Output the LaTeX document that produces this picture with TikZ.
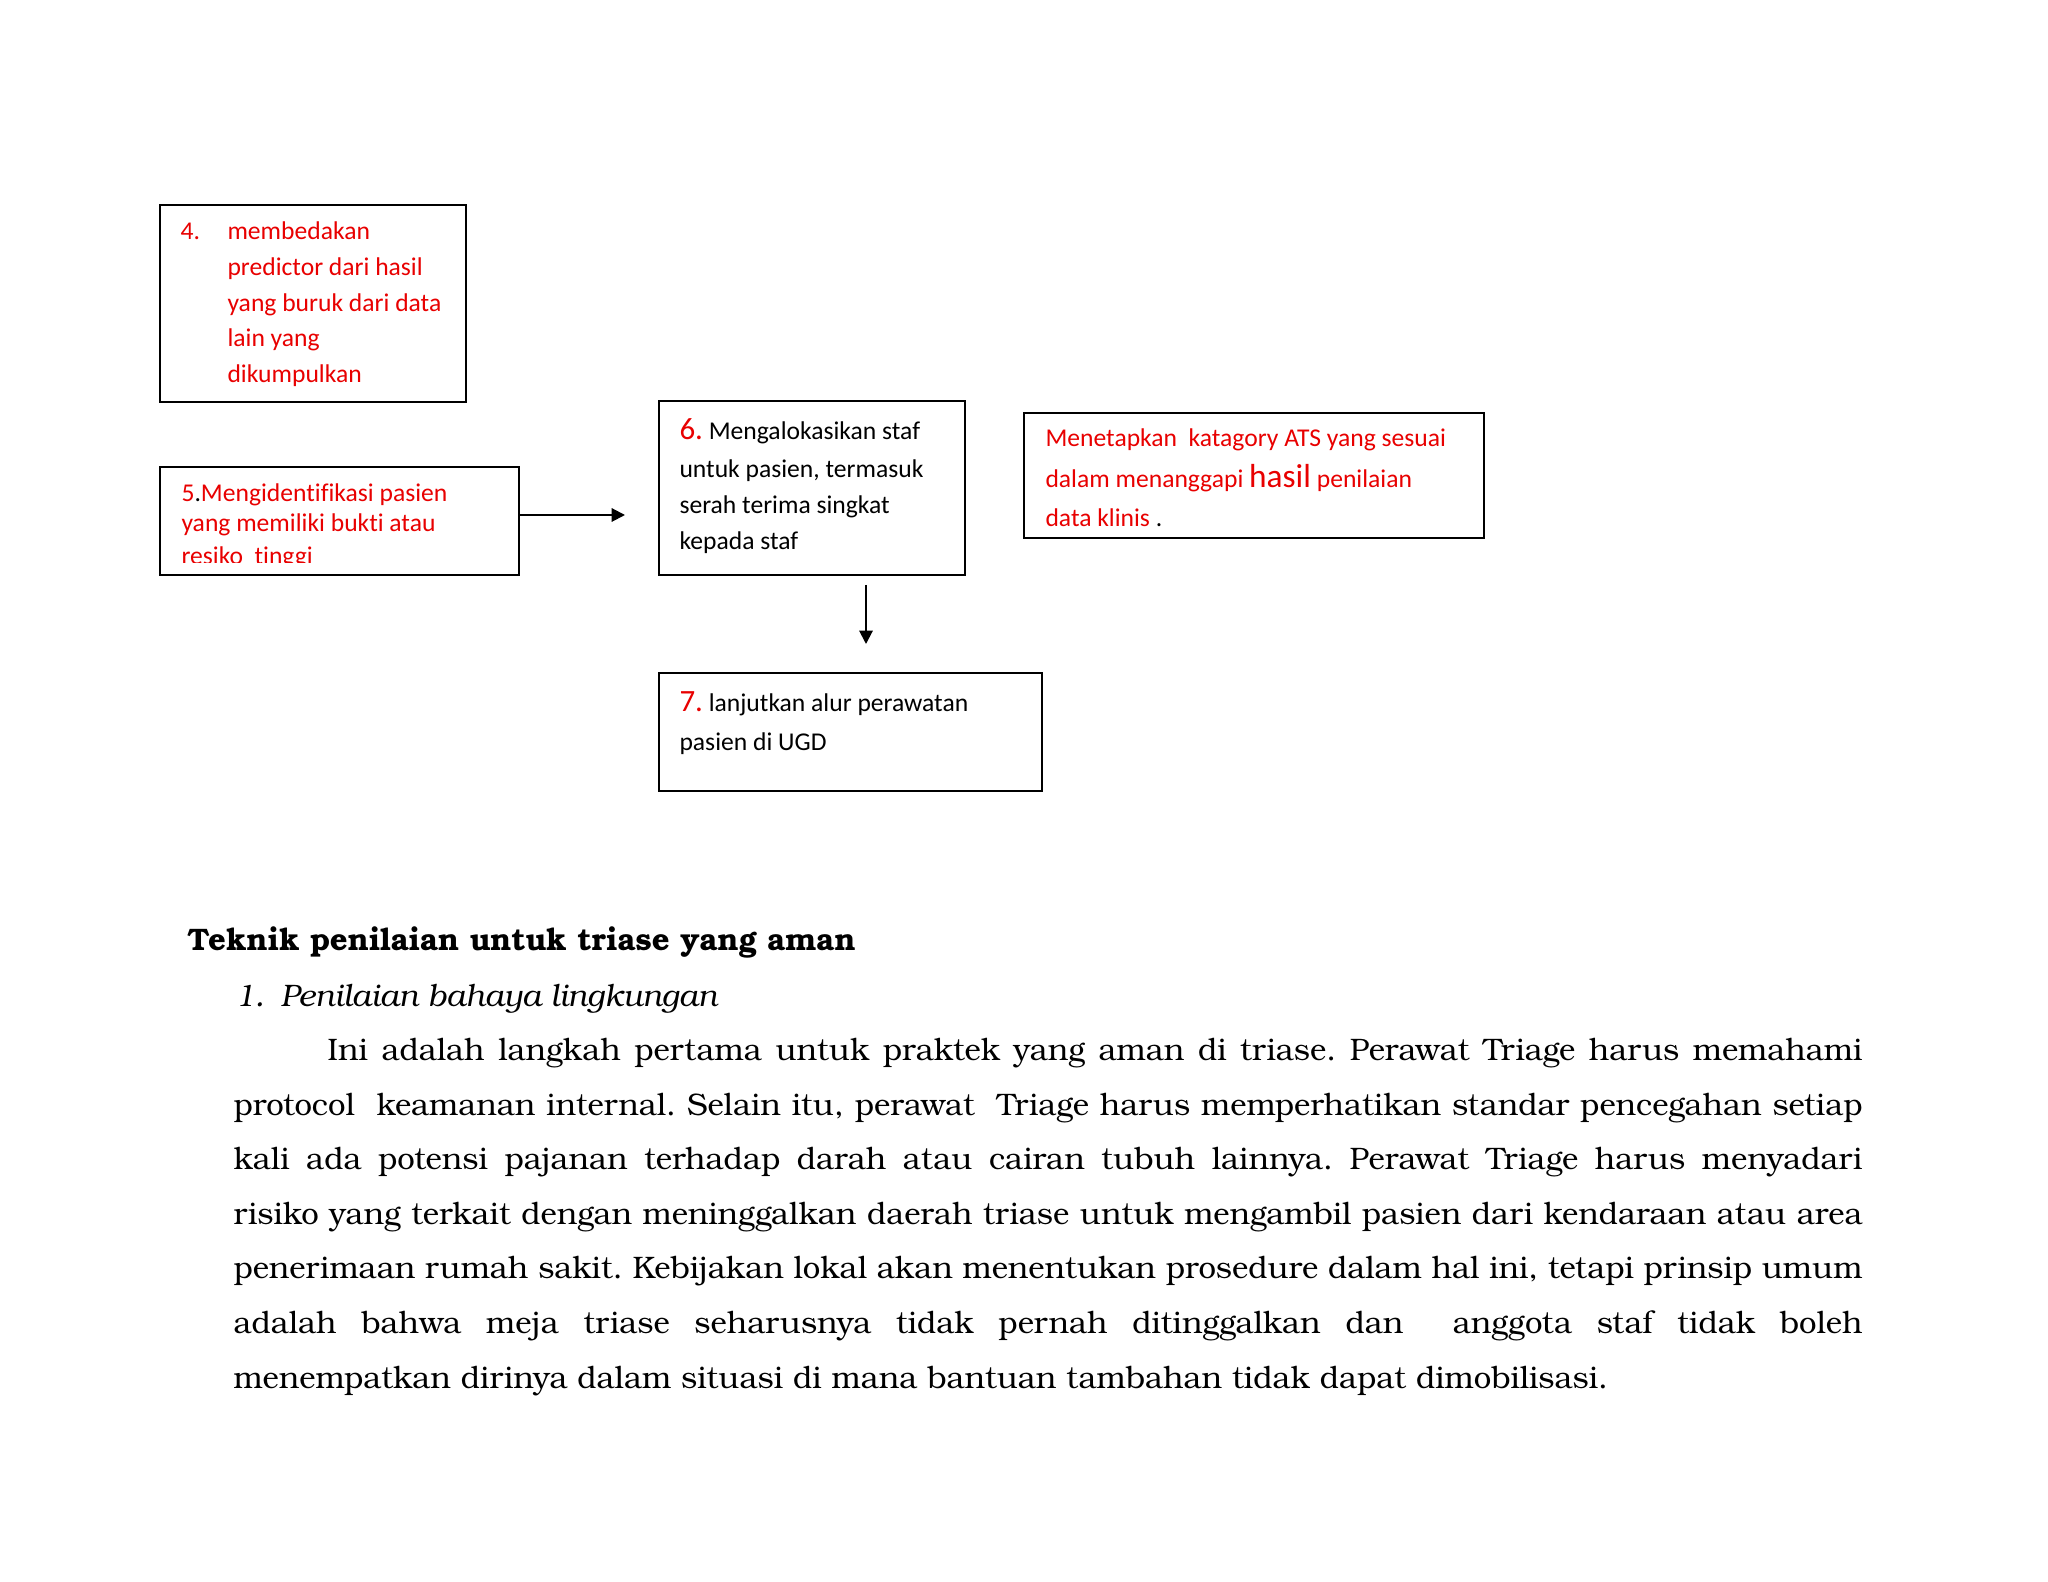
\documentclass[tikz,border=0pt]{standalone}
\usepackage{fontspec}
\setmainfont{TeX Gyre Bonum}
\newfontfamily\calibri[Ligatures=NoCommon]{Carlito}
\usepackage{tikz}
\usetikzlibrary{arrows.meta}
\definecolor{stepred}{RGB}{232,0,0}
\newlength\px
\setlength\px{0.375pt}
\frenchspacing
\tikzset{
  stepbox/.style={draw, line width=0.75pt, inner sep=0pt, anchor=north west},
  arr/.style={line width=0.75pt, -{Triangle[length=5pt,width=5pt]}},
  boxtxt/.style={anchor=base west, inner sep=0pt, font=\calibri\fontsize{9.6}{11}\selectfont},
  bodytxt/.style={anchor=base west, inner sep=0pt, font=\fontsize{11.65}{14}\selectfont},
}
\newcommand{\bignum}[1]{{\color{stepred}\fontsize{11.6}{12}\selectfont #1}}

\begin{document}
\begin{tikzpicture}[x=0.375pt,y=0.375pt,yscale=-1,xscale=1]
    \useasboundingbox (0,0) rectangle (2048,1582);

    %Shape: Rectangle [step 4]
    \node[stepbox, minimum width=306\px, minimum height=197\px] (box4) at (159,204) {};
    %Shape: Rectangle [step 5]
    \node[stepbox, minimum width=359\px, minimum height=108\px] (box5) at (159,466) {};
    %Shape: Rectangle [step 6]
    \node[stepbox, minimum width=306\px, minimum height=174\px] (box6) at (658,400) {};
    %Shape: Rectangle [step 7]
    \node[stepbox, minimum width=383\px, minimum height=118\px] (box7) at (658,672) {};
    %Shape: Rectangle [ATS]
    \node[stepbox, minimum width=460\px, minimum height=125\px] (boxats) at (1023,412) {};

    %Straight Lines
    \coordinate (a56) at (625,515);
    \draw[arr] (box5.east |- a56) -- (a56);
    %Straight Lines
    \coordinate (d67s) at (866,585);
    \coordinate (d67e) at (866,644);
    \draw[arr] (d67s) -- (d67e);

    % Text Node
    \node[boxtxt, text=stepred] (n4) at (180,240) {4.};
    \foreach \yy/\tt [count=\i] in {240/membedakan, 276/predictor dari hasil, 312/yang buruk dari data, 347/lain yang, 383/dikumpulkan}
        \node[boxtxt, text=stepred] (t4-\i) at (227,\yy) {\tt};

    % Text Node (last line is cut by the box)
    \node[boxtxt] (t5-1) at (181,502) {\color{stepred}5\color{black}.\color{stepred}Mengidentifikasi pasien};
    \node[boxtxt, text=stepred] (t5-2) at (181,532) {yang memiliki bukti atau};
    \begin{scope}
        \clip (159,466) rectangle (518,563);
        \node[boxtxt, text=stepred] (t5-3) at (181,565) {resiko\ \ tinggi};
    \end{scope}

    % Text Node
    \node[boxtxt] (t6-1) at (679,440) {\bignum{6.} Mengalokasikan staf};
    \foreach \yy/\tt [count=\i from 2] in {478/{untuk pasien, termasuk}, 514/serah terima singkat, 550/kepada staf}
        \node[boxtxt] (t6-\i) at (679,\yy) {\tt};

    % Text Node
    \node[boxtxt] (t7-1) at (679,712) {\bignum{7.} lanjutkan alur perawatan};
    \node[boxtxt] (t7-2) at (679,750) {pasien di UGD};

    % Text Node
    \node[boxtxt, text=stepred] (ta-1) at (1045,447) {Menetapkan\ \ katagory ATS yang sesuai};
    \node[boxtxt, text=stepred] (ta-2) at (1045,488) {dalam menanggapi {\fontsize{12.5}{13}\selectfont hasil} penilaian};
    \node[boxtxt, text=stepred] (ta-3) at (1045,527) {data klinis \color{black}.};

    % Text Node
    \node[bodytxt, font=\fontsize{11.65}{14}\selectfont\bfseries] (head) at (187,950) {Teknik penilaian untuk triase yang aman};
    \node[bodytxt, font=\fontsize{11.65}{14}\selectfont\itshape] (num1) at (235,1006) {1.};
    \node[bodytxt, font=\fontsize{11.65}{14}\selectfont\itshape] (item1) at (280,1006) {Penilaian bahaya lingkungan};

    % paragraph, one justified line each
    \foreach \yy/\xx/\ww/\tt [count=\i] in {
        1060/327/1535/{Ini adalah langkah pertama untuk praktek yang aman di triase. Perawat Triage harus memahami},
        1115/233/1629/{protocol\ \ keamanan internal. Selain itu, perawat\ \ Triage harus memperhatikan standar pencegahan setiap},
        1169/233/1629/{kali ada potensi pajanan terhadap darah atau cairan tubuh lainnya. Perawat Triage harus menyadari},
        1224/233/1629/{risiko yang terkait dengan meninggalkan daerah triase untuk mengambil pasien dari kendaraan atau area},
        1278/233/1629/{penerimaan rumah sakit. Kebijakan lokal akan menentukan prosedure dalam hal ini, tetapi prinsip umum},
        1333/233/1629/{adalah bahwa meja triase seharusnya tidak pernah ditinggalkan dan\ \ anggota staf tidak boleh}}
        \node[bodytxt] (p-\i) at (\xx,\yy) {\makebox[\ww\px][s]{\tt}};
    \node[bodytxt] (p-7) at (233,1388) {menempatkan dirinya dalam situasi di mana bantuan tambahan tidak dapat dimobilisasi.};
\end{tikzpicture}
\end{document}
